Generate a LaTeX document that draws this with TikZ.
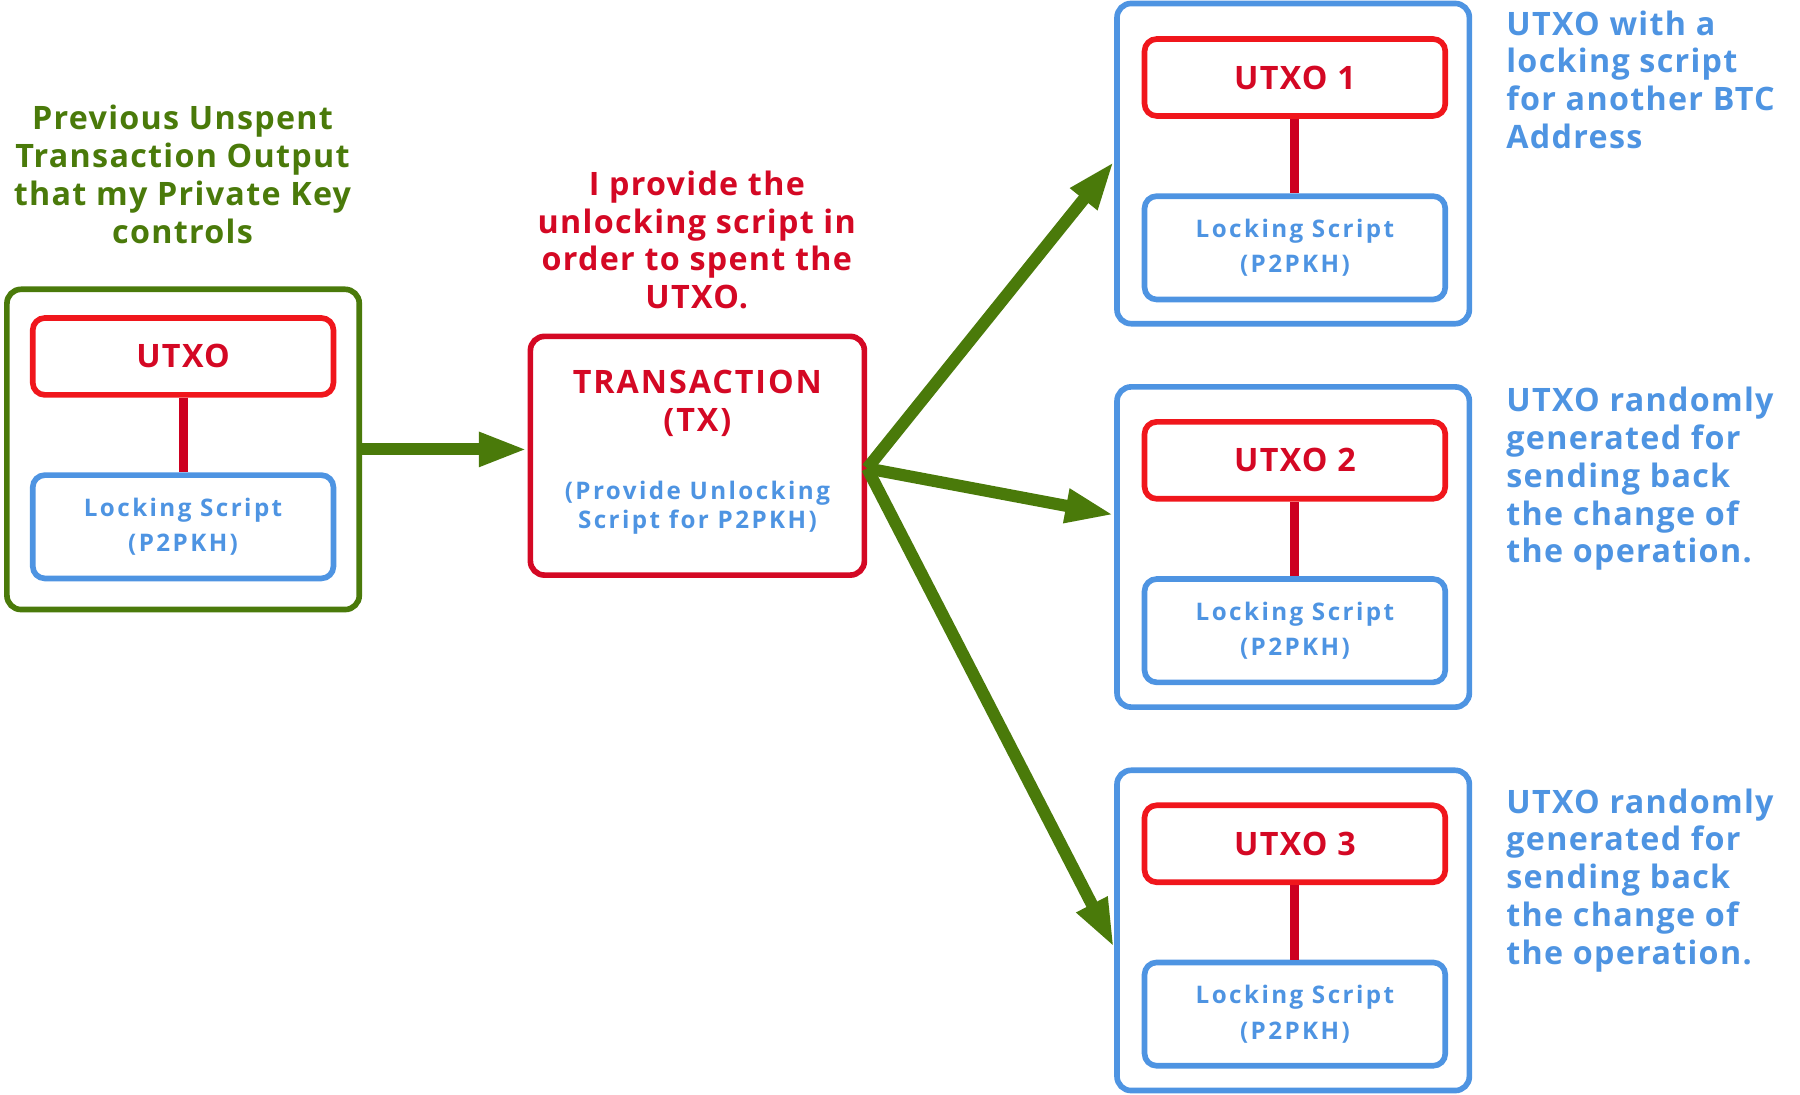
\documentclass[tikz,border=0pt]{standalone}
\usepackage{fontspec}
\setmainfont{Open Sans}[LetterSpace=4]
\newfontfamily\lockfont{Open Sans}[LetterSpace=10]
\newfontfamily\headfont{Open Sans}[LetterSpace=6]
\usetikzlibrary{arrows.meta,positioning,calc}

\definecolor{utxogreen}{RGB}{74,122,10}
\definecolor{boxred}{RGB}{240,22,28}
\definecolor{textred}{RGB}{212,8,36}
\definecolor{linkred}{RGB}{205,0,32}
\definecolor{utxoblue}{RGB}{78,148,226}

\begin{document}
\begin{tikzpicture}[
    x=0.02cm, y=-0.02cm,
    font=\bfseries,
    >={Triangle[length=0.85cm,width=0.55cm]},
    holder/.style={
        rectangle, line width=2.8pt,
        rounded corners=7pt,
        minimum width=6.14cm,
        minimum height=5.58cm
    },
    utxo/.style={
        rectangle, draw=boxred, line width=2.8pt,
        rounded corners=6pt, text=textred,
        minimum width=5.24cm, minimum height=1.34cm,
        font=\fontsize{16}{19}\selectfont\bfseries
    },
    lock/.style={
        rectangle, draw=utxoblue, line width=2.8pt,
        rounded corners=6pt, text=utxoblue, align=center,
        minimum width=5.24cm, minimum height=1.8cm,
        font=\lockfont\fontsize{12}{17.6}\selectfont\bfseries
    },
    note/.style={font=\fontsize{16}{18.8}\selectfont\bfseries},
    link/.style={draw=linkred, line width=4.5pt},
    arrow/.style={->, draw=utxogreen, line width=6pt},
]
  \useasboundingbox (0,0) rectangle (1568,953);

  %––– Previous output (left) ––––––––––––––––––––––––––––––
  \node (prevnote) [note, align=center, text=utxogreen] at (159,152)
      {Previous Unspent\\Transaction Output\\that my Private Key\\controls};
  \node (prev) [holder, draw=utxogreen] at (159.5,391.5) {};
  \node (utxo0) [utxo] at (159.5,310.5) {UTXO};
  \node (lock0) [lock, below=1.3cm of utxo0] {Locking Script\\(P2PKH)};
  \draw[link] (utxo0.south) -- (lock0.north);

  %––– Transaction ––––––––––––––––––––––––––––––––––––––––––
  \node (txnote) [note, align=center, text=textred] at (607,209)
      {I provide the\\unlocking script in\\order to spent the\\UTXO.};
  \node (tx) [rectangle, draw=textred, line width=2.8pt, rounded corners=7pt,
              minimum width=5.82cm, minimum height=4.16cm] at (607.5,397) {};
  \node (txhead) [align=center, text=textred,
                  font=\headfont\fontsize{16}{18.8}\selectfont\bfseries]
      at (607.5,351) {TRANSACTION\\(TX)};
  \node (txsub) [align=center, text=utxoblue,
                 font=\lockfont\fontsize{12}{14.2}\selectfont\bfseries] at (607.5,442)
      {(Provide Unlocking\\Script for P2PKH)};

  %––– New outputs (right) ––––––––––––––––––––––––––––––––––
  \node (out1) [holder, draw=utxoblue] at (1126.5,142.5) {};
  \node (utxo1) [utxo] at (1128,67.5) {UTXO 1};
  \node (lock1) [lock, below=1.3cm of utxo1] {Locking Script\\(P2PKH)};

  \node (out2) [holder, draw=utxoblue] at (1126.5,476.5) {};
  \node (utxo2) [utxo] at (1128,401) {UTXO 2};
  \node (lock2) [lock, below=1.3cm of utxo2] {Locking Script\\(P2PKH)};

  \node (out3) [holder, draw=utxoblue] at (1126.5,810.5) {};
  \node (utxo3) [utxo] at (1128,735) {UTXO 3};
  \node (lock3) [lock, below=1.3cm of utxo3] {Locking Script\\(P2PKH)};

  \draw[link] (utxo1.south) -- (lock1.north);
  \draw[link] (utxo2.south) -- (lock2.north);
  \draw[link] (utxo3.south) -- (lock3.north);

  % Side notes
  \node (note1) [note, align=left, text=utxoblue, anchor=west] at (1306,69.5)
      {UTXO with a\\locking script\\for another BTC\\Address};
  \node (note2) [note, align=left, text=utxoblue, anchor=west] at (1306,417)
      {UTXO randomly\\generated for\\sending back\\the change of\\the operation.};
  \node (note3) [note, align=left, text=utxoblue, anchor=west] at (1306,767)
      {UTXO randomly\\generated for\\sending back\\the change of\\the operation.};

  %––– Arrows –––––––––––––––––––––––––––––––––––––––––––––––
  \coordinate (fork) at ($(tx.east)+(0,11)$);
  \draw[arrow] (prev.east) -- (tx.west |- prev.east);
  \draw[arrow] (fork) -- ($(out1.west)+(0,-2)$);
  \draw[arrow] (fork) -- ($(out2.west)+(0,-28)$);
  \draw[arrow] (fork) -- ($(out3.west)+(0,15)$);
\end{tikzpicture}
\end{document}
